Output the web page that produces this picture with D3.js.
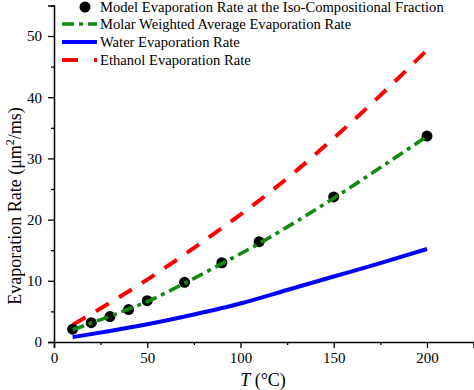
<!DOCTYPE html>
<html>
<head>
<meta charset="utf-8">
<script src="https://cdnjs.cloudflare.com/ajax/libs/d3/7.8.5/d3.min.js"></script>
<style>
  body { margin: 0; background: #fff; }
  svg { display: block; font-family: "Liberation Serif", "Times New Roman", serif; }
</style>
</head>
<body>
<svg width="474" height="390"></svg>
<script>
// values
var modelT = [10, 20, 30, 40, 50, 70, 90, 110, 150, 200];
var modelRate = [2.1, 3.15, 4.15, 5.3, 6.75, 9.75, 12.95, 16.4, 23.7, 33.65];

var molarT = [10, 20, 30, 40, 50, 70, 90, 110, 130, 150, 175, 200];
var molarRate = [2.0, 3.1, 4.2, 5.4, 6.6, 9.6, 12.8, 16.1, 19.7, 23.5, 28.5, 33.6];

var waterT = [10, 30, 50, 75, 100, 125, 150, 175, 200];
var waterRate = [0.8, 1.8, 2.9, 4.5, 6.3, 8.5, 10.7, 12.9, 15.2];

var ethanolT = [10, 30, 50, 70, 90, 110, 130, 150, 175, 200];
var ethanolRate = [2.8, 6.4, 10.2, 14.3, 18.6, 23.1, 28.0, 33.3, 40.3, 47.7];

var xTicks = [0, 50, 100, 150, 200];
var yTicks = [0, 10, 20, 30, 40, 50];

var legendLabels = [
  "Model Evaporation Rate at the Iso-Compositional Fraction",
  "Molar Weighted Average Evaporation Rate",
  "Water Evaporation Rate",
  "Ethanol Evaporation Rate"
];

var svg = d3.select("svg");
var serif = "'Liberation Serif', 'Times New Roman', serif";

var x = d3.scaleLinear().domain([0, 225]).range([54, 473.6]);
var y = d3.scaleLinear().domain([0, 55]).range([342, 5.4]);

function pairs(xs, ys) {
  return xs.map(function(t, i) { return [t, ys[i]]; });
}

var line = d3.line()
    .x(function(d) { return x(d[0]); })
    .y(function(d) { return y(d[1]); })
    .curve(d3.curveMonotoneX);

// axes: major + minor ticks
svg.append("g")
    .attr("transform", "translate(0," + y(0) + ")")
    .call(d3.axisBottom(x).tickValues(xTicks).tickSize(6).tickPadding(4));
svg.append("g")
    .attr("transform", "translate(0," + y(0) + ")")
    .call(d3.axisBottom(x).tickValues([25, 75, 125, 175, 225]).tickSize(3).tickFormat(""))
    .select(".domain").remove();

svg.append("g")
    .attr("transform", "translate(" + x(0) + ",0)")
    .call(d3.axisLeft(y).tickValues(yTicks).tickSize(6).tickPadding(6));
svg.append("g")
    .attr("transform", "translate(" + x(0) + ",0)")
    .call(d3.axisLeft(y).tickValues([5, 15, 25, 35, 45, 55]).tickSize(3).tickFormat(""))
    .select(".domain").remove();

svg.selectAll("g").attr("font-family", serif);
svg.selectAll(".domain").attr("stroke-width", 1.5).attr("stroke", "#000");
svg.selectAll(".tick line").attr("stroke-width", 1.3).attr("stroke", "#000");
svg.selectAll(".tick text")
    .style("font-family", serif)
    .attr("font-size", 15)
    .attr("fill", "#000");

// axis titles
svg.append("text")
    .attr("x", 263)
    .attr("y", 386)
    .attr("text-anchor", "middle")
    .attr("font-size", 18)
    .html('<tspan font-style="italic">T</tspan> (°C)');

svg.append("text")
    .attr("transform", "translate(21,206) rotate(-90)")
    .attr("text-anchor", "middle")
    .attr("font-size", 18)
    .html('Evaporation Rate (μm<tspan baseline-shift="super" font-size="12">2</tspan>/ms)');

// series
var ethanolStyle = { color: "#ff0000", width: 4, dash: "15,12" };
var waterStyle = { color: "#0000ff", width: 4, dash: null };
var molarStyle = { color: "#128a12", width: 3.6, dash: "12,5,4,5" };

svg.append("path")
    .datum(pairs(ethanolT, ethanolRate))
    .attr("fill", "none")
    .attr("stroke", ethanolStyle.color)
    .attr("stroke-width", ethanolStyle.width)
    .attr("stroke-dasharray", ethanolStyle.dash)
    .attr("d", line);

svg.append("path")
    .datum(pairs(waterT, waterRate))
    .attr("fill", "none")
    .attr("stroke", waterStyle.color)
    .attr("stroke-width", waterStyle.width)
    .attr("d", line);

svg.selectAll("circle.model")
    .data(pairs(modelT, modelRate))
  .enter().append("circle")
    .attr("class", "model")
    .attr("cx", function(d) { return x(d[0]); })
    .attr("cy", function(d) { return y(d[1]); })
    .attr("r", 5.5)
    .attr("fill", "#000");

svg.append("path")
    .datum(pairs(molarT, molarRate))
    .attr("fill", "none")
    .attr("stroke", molarStyle.color)
    .attr("stroke-width", molarStyle.width)
    .attr("stroke-dasharray", molarStyle.dash)
    .attr("d", line);

// legend
var legend = svg.append("g");
var rowY = [7, 24, 42, 60];
var styles = [null, molarStyle, waterStyle, ethanolStyle];

legend.selectAll("text")
    .data(legendLabels)
  .enter().append("text")
    .attr("x", 100)
    .attr("y", function(d, i) { return rowY[i] + 5; })
    .attr("font-size", 14.6)
    .text(function(d) { return d; });

legend.append("circle")
    .attr("cx", 85)
    .attr("cy", rowY[0])
    .attr("r", 5.5)
    .attr("fill", "#000");

styles.forEach(function(s, i) {
  if (!s) return;
  legend.append("line")
      .attr("x1", 62).attr("x2", 97)
      .attr("y1", rowY[i]).attr("y2", rowY[i])
      .attr("stroke", s.color)
      .attr("stroke-width", s.width)
      .attr("stroke-dasharray", s.dash === "15,12" ? "16,16" : s.dash);
});
</script>
</body>
</html>
